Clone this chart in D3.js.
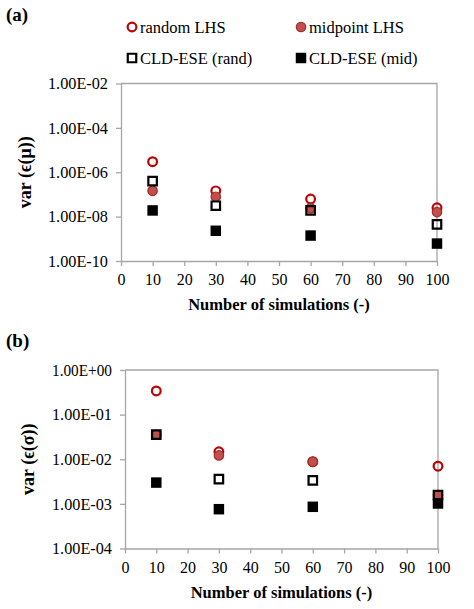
<!DOCTYPE html>
<html>
<head>
<meta charset="utf-8">
<script src="https://cdn.jsdelivr.net/npm/d3@7"></script>
<style>
  body { margin: 0; background: #fff; }
  svg text { font-family: "Liberation Serif", "Times New Roman", serif; }
</style>
</head>
<body>
<script>
// Data
var sims = [10, 30, 60, 100]
var seriesNames = ["random LHS", "midpoint LHS", "CLD-ESE (rand)", "CLD-ESE (mid)"]

// panel (a): var(eps(mu))
var muRandomLHS = [3.0e-6, 1.45e-7, 6.2e-8, 2.5e-8]
var muMidLHS = [1.45e-7, 7.9e-8, 2.4e-8, 1.6e-8]
var muCldRand = [4.0e-7, 3.1e-8, 1.9e-8, 4.5e-9]
var muCldMid = [1.9e-8, 2.3e-9, 1.4e-9, 6.1e-10]
var muTicks = [1e-10, 1e-8, 1e-6, 1e-4, 1e-2]

// panel (b): var(eps(sigma))
var sdRandomLHS = [0.34, 0.0147, 0.0088, 0.0070]
var sdMidLHS = [0.0355, 0.0122, 0.0088, 0.00157]
var sdCldRand = [0.0355, 0.0036, 0.00335, 0.00157]
var sdCldMid = [0.0030, 0.00076, 0.00086, 0.00102]
var sdTicks = [1e-4, 1e-3, 1e-2, 1e-1, 1]

var xTicks = d3.range(0, 101, 10)

var W = 474, H = 609
var svg = d3.select("body").append("svg")
    .attr("width", W).attr("height", H)

// marker styles per series
var styles = [
  {shape: d3.symbolCircle, size: 60, fill: "none", stroke: "#c00000", sw: 2.2},
  {shape: d3.symbolCircle, size: 70, fill: "#c0504d", stroke: "#a52a2a", sw: 1.2},
  {shape: d3.symbolSquare, size: 72, fill: "none", stroke: "#000", sw: 2.2},
  {shape: d3.symbolSquare, size: 110, fill: "#000", stroke: "#000", sw: 0}
]

function expFmt(d) {
  var e = Math.round(Math.log10(d))
  var s = e < 0 ? "-" : "+"
  var a = Math.abs(e)
  return "1.00E" + s + (a < 10 ? "0" + a : a)
}

function panel(opt) {
  var x = d3.scaleLinear().domain([0, 100]).range([opt.left, opt.right])
  var y = d3.scaleLog().domain(opt.domain).range([opt.bottom, opt.top])

  // plot box (top & right)
  svg.append("path")
      .attr("d", "M" + opt.left + "," + opt.top + "H" + opt.right + "V" + opt.bottom)
      .attr("fill", "none").attr("stroke", "#a6a6a6").attr("stroke-width", 1.3)

  var yAxis = d3.axisLeft(y).tickValues(opt.ticks).tickFormat(expFmt)
      .tickSizeInner(5).tickSizeOuter(0).tickPadding(8)
  var gy = svg.append("g")
      .attr("transform", "translate(" + opt.left + ",0)")
      .call(yAxis)
  var xAxis = d3.axisBottom(x).tickValues(xTicks).tickFormat(d3.format("d"))
      .tickSizeInner(5).tickSizeOuter(0).tickPadding(8)
  var gx = svg.append("g")
      .attr("transform", "translate(0," + opt.bottom + ")")
      .call(xAxis)

  ;[gx, gy].forEach(function(g) {
    g.attr("font-family", null).attr("font-size", null)
    g.select(".domain").attr("stroke", "#a6a6a6").attr("stroke-width", 1.3)
    g.selectAll(".tick line").attr("stroke", "#a6a6a6").attr("stroke-width", 1.3)
    g.selectAll(".tick text").attr("fill", "#000")
  })
  gx.selectAll(".tick text").style("font-size", "16px")
  gy.selectAll(".tick text").style("font-size", "16px")
      .attr("textLength", 60).attr("lengthAdjust", "spacingAndGlyphs")

  // series markers
  opt.series.forEach(function(vals, i) {
    var st = styles[i]
    svg.append("g").selectAll("path")
      .data(vals.map(function(v, j) { return {x: sims[j], y: v} }))
      .enter().append("path")
        .attr("d", d3.symbol().type(st.shape).size(st.size))
        .attr("transform", function(d) { return "translate(" + x(d.x) + "," + y(d.y) + ")" })
        .attr("fill", st.fill)
        .attr("stroke", st.stroke)
        .attr("stroke-width", st.sw)
  })

  // axis titles
  svg.append("text")
      .attr("x", (opt.left + opt.right) / 2).attr("y", opt.xTitleY)
      .attr("text-anchor", "middle").attr("font-weight", "bold").style("font-size", "16.5px")
      .text("Number of simulations (-)")
  svg.append("text")
      .attr("transform", "translate(" + opt.yTitleX + "," + (opt.top + opt.bottom) / 2 + ") rotate(-90)")
      .attr("text-anchor", "middle").attr("font-weight", "bold").style("font-size", "18px")
      .text(opt.yTitle)

  svg.append("text")
      .attr("x", 6).attr("y", opt.labelY)
      .attr("font-weight", "bold").style("font-size", "19px")
      .text(opt.label)
}

panel({
  left: 121, right: 437, top: 83.5, bottom: 261,
  domain: [1e-10, 1e-2], ticks: muTicks,
  series: [muRandomLHS, muMidLHS, muCldRand, muCldMid],
  xTitleY: 310, yTitleX: 31, yTitle: "var (\u03F5(\u03BC))",
  label: "(a)", labelY: 21
})

panel({
  left: 125, right: 438, top: 370, bottom: 548.5,
  domain: [1e-4, 1], ticks: sdTicks,
  series: [sdRandomLHS, sdMidLHS, sdCldRand, sdCldMid],
  xTitleY: 598, yTitleX: 34, yTitle: "var (\u03F5(\u03C3))",
  label: "(b)", labelY: 347
})

// legend (panel a)
var legX = [132, 301], legY = [27, 58]
var leg = svg.append("g")
seriesNames.forEach(function(name, i) {
  var st = styles[i]
  var cx = legX[i % 2], cy = legY[Math.floor(i / 2)]
  leg.append("path")
      .attr("d", d3.symbol().type(st.shape).size(st.size))
      .attr("transform", "translate(" + cx + "," + cy + ")")
      .attr("fill", st.fill).attr("stroke", st.stroke).attr("stroke-width", st.sw)
  leg.append("text")
      .attr("x", cx + 8).attr("y", cy + 5.5)
      .style("font-size", "16.5px")
      .text(name)
})
</script>
</body>
</html>
